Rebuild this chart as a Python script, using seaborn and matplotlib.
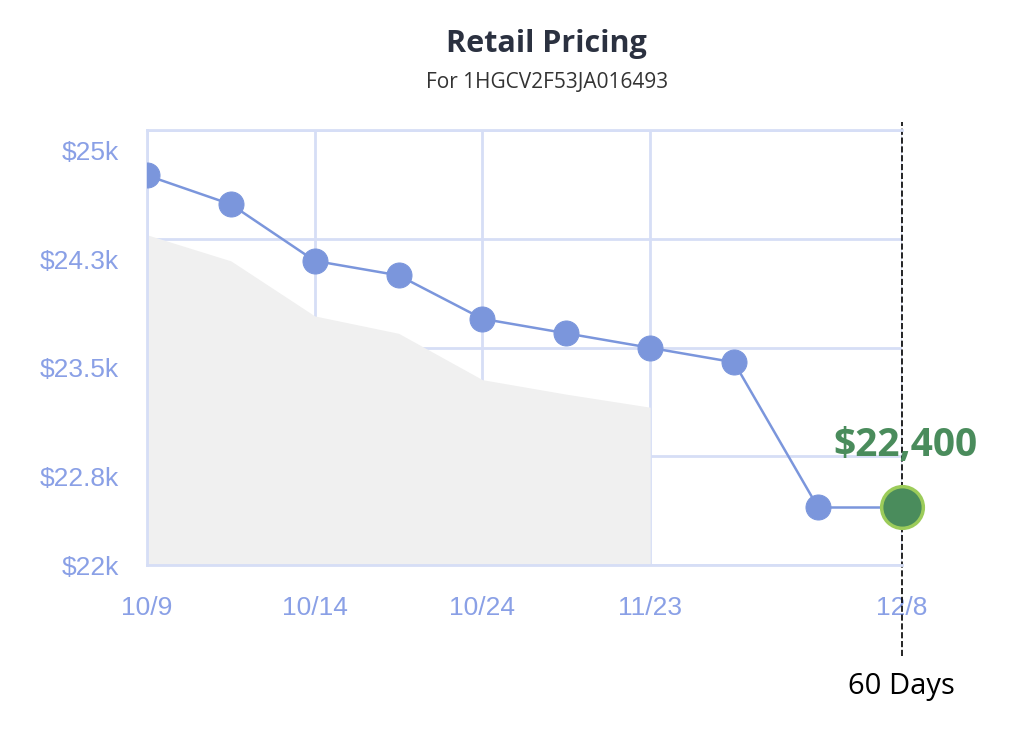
import matplotlib
matplotlib.use('Agg')
import matplotlib.pyplot as plt
import matplotlib.transforms as mtransforms
import seaborn as sns
import numpy as np

# data
dates = ['10/9', '', '10/14', '', '10/24', '', '11/23', '', '', '12/8']
prices = [24690, 24490, 24100, 24000, 23700, 23600, 23500, 23400, 22400, 22400]
market_low = [24280, 24100, 23720, 23600, 23280, 23180, 23090]
ytick_vals = [22000, 22750, 23500, 24250, 25000]
ytick_labels = ['$22k', '$22.8k', '$23.5k', '$24.3k', '$25k']
xtick_idx = [0, 2, 4, 6, 9]

sns.set_theme(style='white')
plt.rcParams['font.family'] = ['Open Sans', 'DejaVu Sans']

BLUE = '#7b96dc'
TICK = '#8aa0e6'
GRID = '#d6def6'

fig = plt.figure(figsize=(10.24, 7.33), dpi=100)
ax = fig.add_axes([0.1436, 0.229, 0.737, 0.593])

x = np.arange(len(prices))
ax.fill_between(x[:len(market_low)], 22000, market_low, color='#f0f0f0', linewidth=0, zorder=1)
sns.lineplot(x=x[:-1], y=prices[:-1], ax=ax, color=BLUE, linewidth=1.8, marker='o',
             markersize=18, markeredgecolor=BLUE, zorder=3)
ax.plot(x[-2:], prices[-2:], color=BLUE, linewidth=1.8, zorder=3)
ax.scatter([x[-1]], [prices[-1]], s=900, color='#4a8c5c', edgecolor='#9ccc5a',
           linewidth=2.5, zorder=4, clip_on=False)
ax.text(x[-1] + 0.05, prices[-1] + 290, f'${prices[-1]:,}', color='#4a8c5c', fontsize=28,
        fontweight='bold', ha='center', va='bottom', zorder=5)

ax.set_xlim(0, 9)
ax.set_ylim(22000, 25000)
ax.set_yticks(ytick_vals)
ax.set_yticklabels(ytick_labels)
ax.set_xticks(xtick_idx)
ax.set_xticklabels([dates[i] for i in xtick_idx])
ax.tick_params(axis='both', colors=TICK, labelsize=19, length=0)
ax.tick_params(axis='y', pad=20)
ax.tick_params(axis='x', pad=22)
shift = mtransforms.ScaledTranslation(0, -0.2, fig.dpi_scale_trans)
for i, lbl in enumerate(ax.get_yticklabels()):
    lbl.set_family(['Liberation Sans', 'DejaVu Sans'])
    if i > 0:
        lbl.set_transform(lbl.get_transform() + shift)
for lbl in ax.get_xticklabels():
    lbl.set_family(['Liberation Sans', 'DejaVu Sans'])
ax.grid(True, color=GRID, linewidth=2)
for s in ax.spines.values():
    s.set_color(GRID)
    s.set_linewidth(2)
ax.spines['right'].set_visible(False)

ax.axvline(9, ymin=-0.21, ymax=1.02, color='black', linestyle='--', linewidth=1.2,
           clip_on=False, zorder=2)
ax.text(9, 21160, '60 Days', ha='center', va='center', fontsize=21, color='black')

fig.text(0.534, 0.94, 'Retail Pricing', ha='center', va='center', fontsize=22,
         fontweight='bold', color='#2b3140')
fig.text(0.534, 0.888, 'For 1HGCV2F53JA016493', ha='center', va='center', fontsize=15,
         color='#333333')

fig.savefig('out.png', dpi=100)
